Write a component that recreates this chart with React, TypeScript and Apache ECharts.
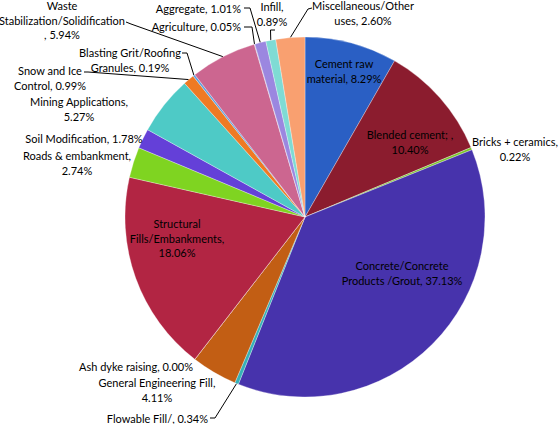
import React, { useEffect, useRef } from "react";
import * as echarts from "echarts";

// ---------- data ----------
const categories = [
  "Cement raw material",
  "Blended cement; ",
  "Bricks + ceramics",
  "Concrete/Concrete Products /Grout",
  "Flowable Fill/",
  "General Engineering Fill",
  "Ash dyke raising",
  "Structural Fills/Embankments",
  "Roads & embankment",
  "Soil Modification",
  "Mining Applications",
  "Snow and Ice Control",
  "Blasting Grit/Roofing Granules",
  "Waste Stabilization/Solidification ",
  "Agriculture",
  "Aggregate",
  "Infill",
  "Miscellaneous/Other uses",
];
const values = [
  8.29, 10.4, 0.22, 37.13, 0.34, 4.11, 0.0, 18.06, 2.74, 1.78, 5.27, 0.99,
  0.19, 5.94, 0.05, 1.01, 0.89, 2.6,
];

// ---------- presentation ----------
const sliceColors = [
  "#2a5fc4", "#8b1c2e", "#7cc52a", "#4733ac", "#36b2b8", "#c25e14",
  "#999999", "#b22543", "#7fd421", "#6440d8", "#4ecac6", "#ef7a24",
  "#5fa0e0", "#cc6690", "#b0a0c0", "#9b87e0", "#7fdbd4", "#f9a070",
];
const labelTemplates = [
  "Cement raw\nmaterial, {v}",
  "Blended cement; ,\n{v}",
  "Bricks + ceramics,\n{v}",
  "Concrete/Concrete\nProducts /Grout, {v}",
  "Flowable Fill/, {v}",
  "General Engineering Fill,\n{v}",
  "Ash dyke raising, {v}",
  "Structural\nFills/Embankments,\n{v}",
  "Roads & embankment,\n{v}",
  "Soil Modification, {v}",
  "Mining Applications,\n{v}",
  "Snow and Ice\nControl, {v}",
  "Blasting Grit/Roofing\nGranules, {v}",
  "Waste\nStabilization/Solidification\n, {v}",
  "Agriculture, {v}",
  "Aggregate, {v}",
  "Infill,\n{v}",
  "Miscellaneous/Other\nuses, {v}",
];
const insideIdx = [0, 1, 3, 7];
// label anchor [x, y, align, knee points of leader line or null]
const labelPlacement: [number, number, string, number[][] | null][] = [
  [344, 71, "center", null],
  [410, 142, "center", null],
  [515, 149, "center", null],
  [402, 273, "center", null],
  [208, 418, "right", [[215, 418], [210, 418]]],
  [157, 390, "center", null],
  [136, 366, "center", null],
  [177, 238, "center", null],
  [77, 163, "center", null],
  [84, 138, "center", null],
  [79, 109, "center", null],
  [50, 78, "center", [[88, 72], [84, 72]]],
  [130, 60, "center", [[187, 53], [182, 53]]],
  [62, 20, "center", [[131, 24], [126, 22]]],
  [241, 26, "right", [[252, 27], [244, 27]]],
  [241, 8, "right", [[250, 8], [244, 8]]],
  [272, 14, "center", [[270.5, 30], [275, 30]]],
  [363, 13, "center", [[308, 9], [312, 8]]],
];
const CX = 305;
const CY = 217;
const R = 180;

export default function App() {
  const ref = useRef<HTMLDivElement>(null);
  useEffect(() => {
    if (!ref.current) return;
    const chart = echarts.init(ref.current, null, { renderer: "svg" });
    const total = values.reduce((a, b) => a + b, 0);
    const anchorOf = (i: number) => {
      let before = 0;
      for (let k = 0; k < i; k++) before += values[k];
      const frac = (before + values[i] / 2) / total;
      const th = frac * Math.PI * 2;
      return [CX + R * Math.sin(th), CY - R * Math.cos(th)];
    };
    const data = categories.map((name, i) => {
      const inside = insideIdx.indexOf(i) >= 0;
      const hasLine = !!labelPlacement[i][3];
      return {
        name,
        value: values[i],
        itemStyle: { color: sliceColors[i] },
        label: {
          position: inside ? "inside" : "outside",
          formatter: labelTemplates[i].replace("{v}", values[i].toFixed(2) + "%"),
        },
        labelLine: { show: hasLine },
      };
    });
    chart.setOption({
      animation: false,
      backgroundColor: "#ffffff",
      series: [
        {
          type: "pie",
          center: [CX, CY],
          radius: [0, R],
          startAngle: 90,
          clockwise: true,
          avoidLabelOverlap: false,
          itemStyle: { borderColor: "rgba(255,255,255,0.6)", borderWidth: 0.5 },
          label: {
            show: true,
            color: "#000000",
            fontFamily: "Lato",
            fontSize: 11,
            lineHeight: 14.5,
            overflow: "none",
          },
          labelLine: {
            show: false,
            lineStyle: { color: "#000000", width: 1 },
          },
          emphasis: { disabled: true },
          labelLayout: (params: any) => {
            const i = params.dataIndex;
            const p = labelPlacement[i];
            const res: any = {
              x: p[0],
              y: p[1],
              align: p[2],
              verticalAlign: "middle",
            };
            if (p[3]) {
              res.labelLinePoints = [anchorOf(i), ...p[3]];
            }
            return res;
          },
          data,
        },
      ],
    });
    return () => chart.dispose();
  }, []);
  return (
    <div
      ref={ref}
      style={{ position: "fixed", left: 0, top: 0, width: 559, height: 424 }}
    />
  );
}
